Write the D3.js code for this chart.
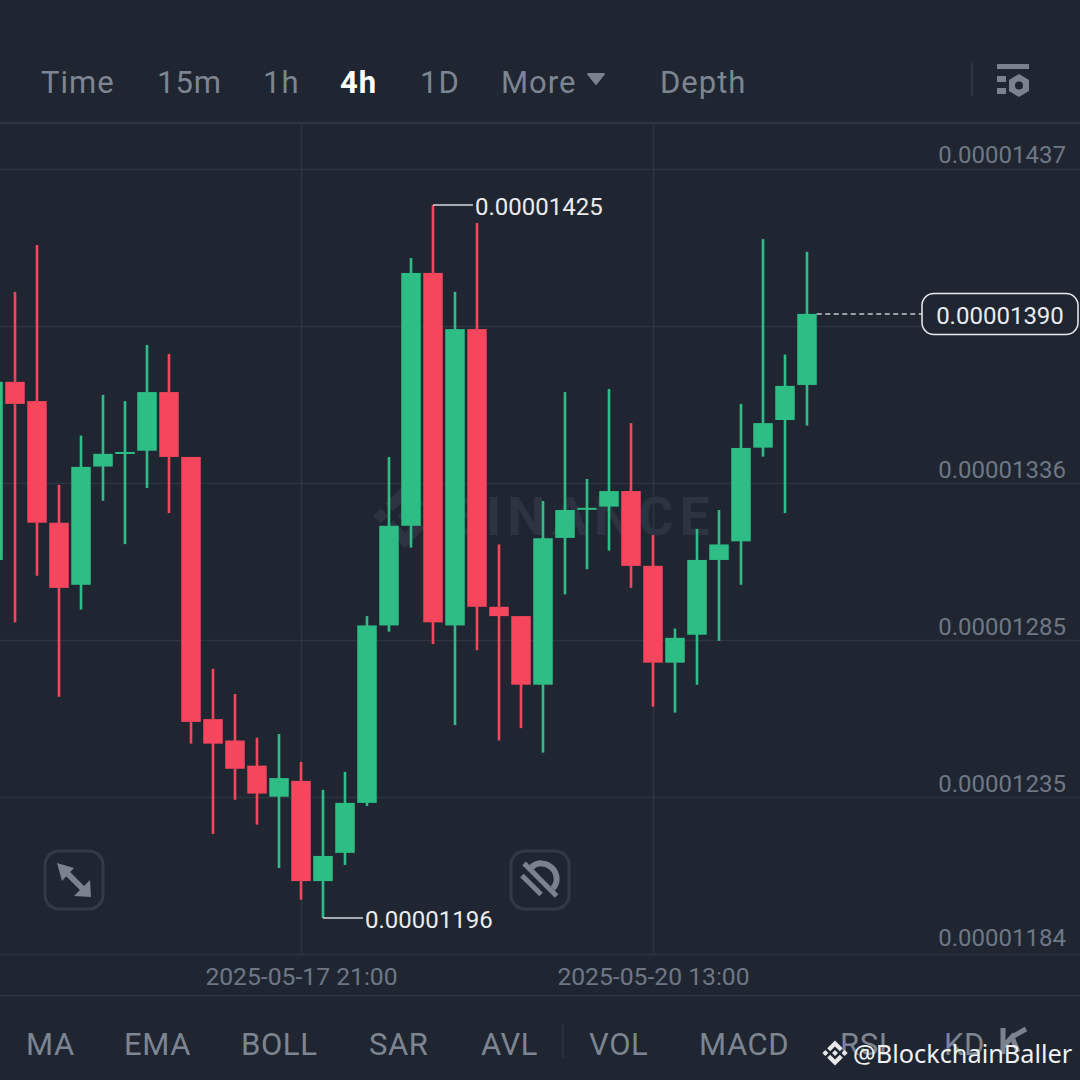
<!DOCTYPE html>
<html>
<head>
<meta charset="utf-8">
<script src="https://cdnjs.cloudflare.com/ajax/libs/d3/7.8.5/d3.min.js"></script>
<style>
  html, body { margin: 0; padding: 0; background: #1f2631; }
  svg { display: block; }
  text { font-family: Roboto, sans-serif; }
  .domain { display: none; }
</style>
</head>
<body>
<svg id="chart" width="1080" height="1080"></svg>
<script>
/* global d3 */
// prices are in units of 0.00000001
const opens = [1311.0, 1368.4, 1362.2, 1323.0, 1303.0, 1341.1, 1345.3, 1346.2, 1365.1, 1344.2,
  1259.7, 1252.8, 1244.7, 1234.7, 1239.8, 1207.5, 1216.6, 1232.7, 1289.9, 1322.0,
  1403.5, 1289.9, 1385.4, 1295.9, 1292.9, 1270.8, 1318.1, 1327.3, 1328.2, 1333.2,
  1309.1, 1277.9, 1286.9, 1311.0, 1317.0, 1347.2, 1356.1, 1367.4];
const highs = [1372.0, 1397.4, 1412.5, 1335.2, 1351.1, 1364.2, 1362.2, 1380.3, 1377.4, 1344.2,
  1275.9, 1267.8, 1253.7, 1254.9, 1245.9, 1236.9, 1242.7, 1292.9, 1344.2, 1408.3,
  1425.4, 1397.4, 1419.6, 1316.0, 1292.9, 1330.0, 1365.1, 1337.1, 1366.1, 1355.1,
  1319.0, 1288.9, 1321.0, 1327.1, 1361.3, 1414.4, 1377.2, 1410.3];
const lows = [1305.0, 1290.9, 1305.9, 1266.9, 1295.0, 1330.1, 1316.1, 1334.2, 1326.1, 1251.8,
  1222.7, 1233.7, 1225.7, 1211.7, 1201.5, 1195.6, 1212.7, 1231.7, 1287.9, 1315.0,
  1283.9, 1257.8, 1281.9, 1252.8, 1256.8, 1248.9, 1299.9, 1308.0, 1314.0, 1302.0,
  1263.7, 1261.8, 1270.8, 1284.9, 1303.0, 1344.3, 1326.1, 1354.3];
const closes = [1368.4, 1361.3, 1323.0, 1302.0, 1341.0, 1345.2, 1345.8, 1365.1, 1344.2, 1258.8,
  1251.8, 1243.7, 1235.7, 1240.7, 1207.5, 1215.6, 1232.7, 1289.9, 1322.0, 1403.5,
  1290.9, 1385.4, 1295.9, 1292.9, 1270.8, 1318.0, 1327.1, 1327.8, 1333.2, 1309.1,
  1277.9, 1285.9, 1311.0, 1316.0, 1347.1, 1355.1, 1367.1, 1390.3];

// the 1386.4 line has its label hidden behind the last price pill
const priceTicks = [1184, 1234.6, 1285.2, 1335.8, 1386.4, 1437];
const hiddenTick = 1386.4;
const dateTicks = ['2025-05-17 21:00', '2025-05-20 13:00'];
const firstCandle = '2025-05-15 13:00', lastCandle = '2025-05-21 17:00';
const highLabel = 1425, lowLabel = 1196, lastPrice = 1390;

const topTabs = ['Time', '15m', '1h', '4h', '1D', 'More', 'Depth'];
const topTabX = [41, 157, 263, 340, 420, 501, 660];
const bottomTabs = ['MA', 'EMA', 'BOLL', 'SAR', 'AVL', 'VOL', 'MACD', 'RSI', 'KD'];
const bottomTabX = [26, 124, 241, 369, 481, 589, 699, 840, 944];

const bg = '#1f2631', gridColor = '#2e3440', up = '#2ebd85', down = '#f6465d',
  grey = '#7d8592', axisGrey = '#6f7785', iconGrey = '#7a828e', white = '#eaecef';
const bodyWidth = 19.5, wickWidth = 2.6;

const parseTime = d3.utcParse('%Y-%m-%d %H:%M'),
  formatTime = d3.utcFormat('%Y-%m-%d %H:%M'),
  formatPrice = v => (v * 1e-8).toFixed(8);

const svg = d3.select('#chart');
svg.append('rect').attr('width', 1080).attr('height', 1080).attr('fill', bg);

const x = d3.scaleUtc().domain([parseTime(firstCandle), parseTime(lastCandle)]).range([-7, 807]),
  y = d3.scaleLinear().domain([1184, 1437]).range([954, 169]);

const candles = opens.map((o, i) => ({
  time: d3.utcHour.offset(parseTime(firstCandle), i * 4),
  open: o, high: highs[i], low: lows[i], close: closes[i]
}));

// top bar and lower frame lines
svg.append('rect').attr('x', 0).attr('y', 122).attr('width', 1080).attr('height', 2).attr('fill', gridColor);
svg.append('rect').attr('x', 0).attr('y', 995).attr('width', 1080).attr('height', 1.5).attr('fill', gridColor);

// grid and axes
const yAxis = d3.axisRight(y).tickValues(priceTicks).tickSize(1080).
  tickFormat(v => v === hiddenTick ? '' : formatPrice(v));
const yG = svg.append('g').call(yAxis);
yG.selectAll('line').attr('stroke', gridColor).attr('stroke-width', 1.5);
yG.selectAll('text').
  attr('x', 1066).attr('dy', d => d === 1184 ? -9 : d === 1437 ? -7 : -6).attr('text-anchor', 'end').
  attr('fill', axisGrey).style('font-size', '24px').style('font-family', 'Roboto, sans-serif');

const xAxis = d3.axisBottom(x).tickValues(dateTicks.map(parseTime)).tickSize(-831).tickFormat(formatTime);
const xG = svg.append('g').attr('transform', 'translate(0,954)').call(xAxis);
xG.selectAll('line').attr('stroke', gridColor).attr('stroke-width', 1.5);
xG.selectAll('text').
  attr('y', 13).attr('dy', '0.71em').
  attr('fill', axisGrey).style('font-size', '24.7px').style('font-family', 'Roboto, sans-serif');

// binance mark, drawn in a 100 x 100 box
function logo(parent, cx, cy, size, color) {
  const g = parent.append('g').
    attr('transform', `translate(${cx - size / 2},${cy - size / 2}) scale(${size / 100})`).
    attr('fill', color);
  ['M50 8L76 34 66 44 50 28 34 44 24 34Z', 'M50 92L76 66 66 56 50 72 34 56 24 66Z',
    'M50 40L60 50 50 60 40 50Z', 'M8 50L18 40 28 50 18 60Z', 'M72 50L82 40 92 50 82 60Z'].
    forEach(d => g.append('path').attr('d', d));
}

// background watermark
logo(svg, 405, 516, 76, '#2d3340');
svg.append('text').attr('x', 445).attr('y', 535).text('BINANCE').
  attr('fill', '#2d3340').style('font-size', '54px').style('font-weight', 700).style('letter-spacing', '6px');

// candles
const marks = svg.append('g').selectAll('g').data(candles).join('g').
  attr('fill', d => d.close >= d.open ? up : down);
marks.append('rect').
  attr('x', d => x(d.time) - wickWidth / 2).attr('width', wickWidth).
  attr('y', d => y(d.high)).attr('height', d => y(d.low) - y(d.high));
marks.append('rect').
  attr('x', d => x(d.time) - bodyWidth / 2).attr('width', bodyWidth).
  attr('y', d => y(Math.max(d.open, d.close))).
  attr('height', d => Math.max(2, Math.abs(y(d.open) - y(d.close))));

// high / low callouts
const hiCandle = d3.greatest(candles, d => d.high),
  loCandle = d3.least(candles, d => d.low);
[[hiCandle, highLabel, y(hiCandle.high), 2], [loCandle, lowLabel, y(loCandle.low), 2]].forEach(([c, v, ly, shift]) => {
  svg.append('line').
    attr('x1', x(c.time)).attr('x2', x(c.time) + 40).attr('y1', ly).attr('y2', ly).
    attr('stroke', '#d5d8dc').attr('stroke-width', 1.5);
  svg.append('text').
    attr('x', x(c.time) + 42).attr('y', ly + shift).attr('dy', '0.35em').text(formatPrice(v)).
    attr('fill', white).style('font-size', '24px');
});

// last price line and pill
const lastCandleMark = candles[candles.length - 1];
svg.append('line').
  attr('x1', x(lastCandleMark.time) + bodyWidth / 2).attr('x2', 922).
  attr('y1', y(lastCandleMark.close)).attr('y2', y(lastCandleMark.close)).
  attr('stroke', '#c5c9cf').attr('stroke-width', 1.5).attr('stroke-dasharray', '5 3.5');
svg.append('rect').attr('x', 922).attr('y', 293.5).attr('width', 156).attr('height', 41).attr('rx', 12).
  attr('fill', bg).attr('stroke', white).attr('stroke-width', 1.5);
svg.append('text').attr('x', 1000).attr('y', y(lastPrice) + 1).attr('dy', '0.35em').attr('text-anchor', 'middle').
  text(formatPrice(lastPrice)).attr('fill', white).style('font-size', '24px');

// top tabs
svg.append('g').selectAll('text').data(topTabs).join('text').
  attr('x', (d, i) => topTabX[i]).attr('y', 93).text(d => d).
  attr('fill', d => d === '4h' ? '#ffffff' : grey).
  style('font-size', '31px').style('letter-spacing', '1px').style('font-weight', d => d === '4h' ? 700 : 400);
svg.append('path').attr('d', 'M588 74H604L596 84Z').attr('fill', iconGrey).
  attr('stroke', iconGrey).attr('stroke-width', 2).attr('stroke-linejoin', 'round');
svg.append('rect').attr('x', 971).attr('y', 63).attr('width', 2).attr('height', 33).attr('fill', gridColor);

// settings icon
const gear = svg.append('g').attr('fill', iconGrey);
gear.append('rect').attr('x', 997).attr('y', 64).attr('width', 32).attr('height', 5);
gear.append('rect').attr('x', 997).attr('y', 76).attr('width', 9).attr('height', 6);
gear.append('rect').attr('x', 997).attr('y', 88).attr('width', 9).attr('height', 6);
gear.append('path').attr('d', 'M1019 74L1029 80V91L1019 97 1009 91V80Z');
gear.append('circle').attr('cx', 1019).attr('cy', 85.5).attr('r', 4).attr('fill', bg);

// floating buttons
[[45, 851], [511, 851]].forEach(([bx, by]) => {
  svg.append('rect').attr('x', bx).attr('y', by).attr('width', 58).attr('height', 58).attr('rx', 14).
    attr('fill', 'none').attr('stroke', '#333a46').attr('stroke-width', 3);
});
const expand = svg.append('g').attr('fill', iconGrey);
expand.append('path').attr('d', 'M57 863L74 868 62 881Z');
expand.append('path').attr('d', 'M91 897L74 896 90 880Z');
expand.append('line').attr('x1', 64).attr('y1', 870).attr('x2', 84).attr('y2', 890).
  attr('stroke', iconGrey).attr('stroke-width', 6);
const eye = svg.append('g').attr('transform', 'translate(540,880) rotate(45)').attr('fill', iconGrey);
eye.append('path').attr('d', 'M-18 -3A18 17 0 0 1 18 -3H12A12 11 0 0 0 -12 -3Z');
eye.append('rect').attr('x', -23).attr('y', -3).attr('width', 46).attr('height', 5);
eye.append('rect').attr('x', -16).attr('y', 7).attr('width', 27).attr('height', 5);

// bottom tabs
svg.append('g').selectAll('text').data(bottomTabs).join('text').
  attr('x', (d, i) => bottomTabX[i]).attr('y', 1055).text(d => d).
  attr('fill', grey).style('font-size', '31px').style('letter-spacing', '0.6px');
svg.append('rect').attr('x', 562).attr('y', 1025).attr('width', 1.5).attr('height', 33).attr('fill', gridColor);
svg.append('path').attr('d', 'M1003 1028V1054M1003 1047L1012 1037 1018 1052M1012 1037L1026 1029').
  attr('fill', 'none').attr('stroke', iconGrey).attr('stroke-width', 5);

// repost credit
logo(svg, 835, 1053, 30, '#e6e8ea');
svg.append('text').attr('x', 853).attr('y', 1063).text('@BlockchainBaller').
  attr('fill', '#f0f1f3').style('font-size', '25.3px').style('font-family', '"Noto Sans", sans-serif');
</script>
</body>
</html>
